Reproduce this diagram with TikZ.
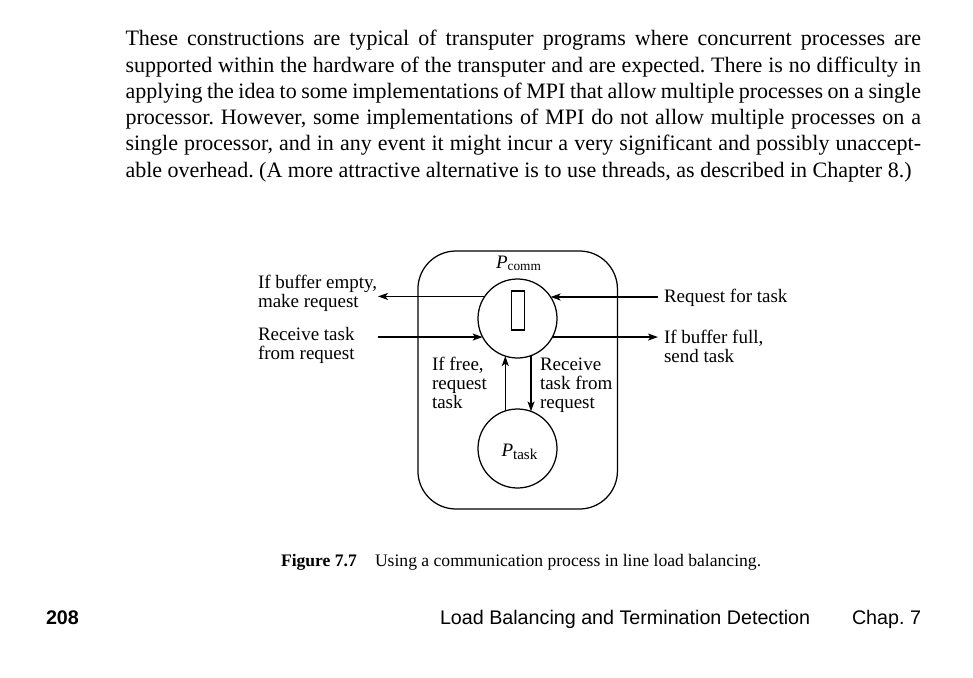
\documentclass[tikz,border=0pt]{standalone}
\usepackage{fontspec}
\setmainfont{Liberation Serif}
\setsansfont{Liberation Sans}
\usetikzlibrary{arrows.meta}
\newcommand\stackl[1]{\begin{tabular}[t]{@{}l@{}}#1\end{tabular}}
\frenchspacing
\begin{document}
\begin{tikzpicture}[x=1pt,y=-1pt,
  txt/.style={anchor=base west, inner sep=0pt, outer sep=0pt},
  body/.style={txt, font=\fontsize{22}{26}\selectfont},
  lbl/.style={txt, font=\fontsize{19}{19}\selectfont},
  captxt/.style={txt, font=\fontsize{17.6}{20}\selectfont},
  foot/.style={txt, font=\sffamily\fontsize{19.7}{22}\selectfont},
  proc/.style={circle, draw, line width=1.25pt, minimum size=79pt, inner sep=0pt, outer sep=0pt},
  arr/.style={line width=1.25pt, -{Stealth[length=10pt,width=7pt,inset=2.5pt]}},
]
\useasboundingbox (0,0) rectangle (973,677);

% body text
\node[body] (t1) at (125.5,45.7) {\makebox[795.5pt][s]{These constructions are typical of transputer programs where concurrent processes are}};
\node[body] (t2) at (125.5,72.0) {\makebox[795.5pt][s]{supported within the hardware of the transputer and are expected. There is no difficulty in}};
\node[body] (t3) at (125.5,98.2) {\makebox[795.5pt][s]{applying the idea to some implementations of MPI that allow multiple processes on a single}};
\node[body] (t4) at (125.5,124.5) {\makebox[795.5pt][s]{processor. However, some implementations of MPI do not allow multiple processes on a}};
\node[body] (t5) at (125.5,150.8) {\makebox[795.5pt][s]{single processor, and in any event it might incur a very significant and possibly unaccept-}};
\node[body] (t6) at (125.5,177.0) {\makebox[786pt][s]{able overhead. (A more attractive alternative is to use threads, as described in Chapter 8.)}};

% diagram
\node[draw, line width=1.25pt, rounded corners=38pt, minimum width=199.5pt, minimum height=258pt, inner sep=0pt] (box) at (517.7,380) {};
\node[proc] (pc) at (517.5,318.5) {};
\node[draw, line width=1.25pt, minimum width=13pt, minimum height=39pt, inner sep=0pt] (buf) at (517.7,310.5) {};
\node[proc] (pt) at (517.5,448.5) {};
\node[lbl] (pcl) at (496,268.3) {\textit{P}\textsubscript{comm}};
\node[lbl] (ptl) at (501.5,456.5) {\textit{P}{\fontsize{15}{15}\selectfont\raisebox{-3pt}{task}}};

\coordinate (aL) at (378,0);
\coordinate (aR) at (658,0);
\draw[arr] (pc.146.8) -- (pc.146.8 -| aL);
\draw[arr] (pc.33.2 -| aR) -- (pc.33.2);
\draw[arr] (pc.208.1 -| aL) -- (pc.208.1);
\draw[arr] (pc.-28.1) -- (pc.-28.1 -| aR);
\draw[arr] (pt.108.4) -- (pt.108.4 |- pc.-108.5);
\draw[arr] (pc.-70) -- (pc.-70 |- pt.70);

\node[lbl] (la) at (258,288) {\stackl{If buffer empty,\\make request}};
\node[lbl] (lb) at (258,340) {\stackl{Receive task\\from request}};
\node[lbl] (lc) at (664,302.3) {Request for task};
\node[lbl] (ld) at (664,343.5) {\stackl{If buffer full,\\send task}};
\node[lbl] (le) at (432,370.5) {\stackl{If free,\\request\\task}};
\node[lbl] (lf) at (540,370.5) {\stackl{Receive\\task from\\request}};

% caption
\node[captxt, font=\fontsize{17.6}{20}\selectfont\bfseries] (fig) at (281,566) {Figure 7.7};
\node[captxt] (capt) at (375,566) {Using a communication process in line load balancing.};

% footer
\node[foot, font=\sffamily\bfseries\fontsize{19.7}{22}\selectfont] (pg) at (46,624) {208};
\node[foot] (run) at (440,624) {Load Balancing and Termination Detection};
\node[foot, anchor=base east] (chap) at (921,624) {Chap. 7};
\end{tikzpicture}
\end{document}
